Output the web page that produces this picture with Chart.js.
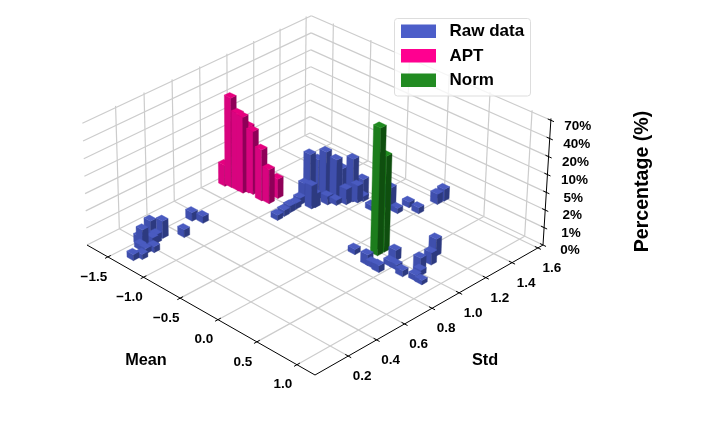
<!DOCTYPE html>
<html>
<head>
<meta charset="utf-8">
<style>
html, body { margin: 0; padding: 0; background: #fff; }
canvas { display: block; }
</style>
<script src="https://cdn.jsdelivr.net/npm/chart.js@4/dist/chart.umd.js"></script>
</head>
<body>
<canvas id="myChart" width="728" height="428"></canvas>
<script>
var meanTicks = [-1.5, -1.0, -0.5, 0.0, 0.5, 1.0],
    stdTicks = [0.2, 0.4, 0.6, 0.8, 1.0, 1.2, 1.4, 1.6],
    pctTicks = [0, 1, 2, 5, 10, 20, 40, 70];

var rawMean = [-1.325, -1.28, -1.29, -1.41, -1.48, -1.43, -1.456, -1.38, -1.42, -1.286, -1.45, -1.347, -1.33, -1.40,
    -0.878, -0.886, -0.894, -0.90, -0.927, -0.797, -0.937, -0.918, -0.883, -0.819, -0.785, -0.711,
    -0.674, -0.691, -0.608, -0.583, -0.542, -0.79, -0.74, -0.616, -0.563,
    -0.36, -0.252, -0.157, -0.152, -0.014, -0.003, 0.002,
    0.065, 0.276, 0.343, 0.433, 0.404, 0.443, 0.519, 0.635, 0.697, 0.769, 0.85, 0.739, 0.683, 0.611];
var rawStd = [0.06, 0.10, 0.19, 0.155, 0.186, 0.18, 0.25, 0.226, 0.318, 0.403, 0.546, 0.572, 0.15, 0.26,
    0.87, 0.924, 0.973, 1.02, 1.067, 1.081, 1.11, 1.137, 1.18, 1.201, 1.222, 1.22,
    1.199, 1.253, 1.287, 1.352, 1.329, 1.104, 1.17, 1.241, 1.297,
    1.29, 1.368, 1.365, 1.451, 1.442, 1.581, 1.63,
    0.912, 0.883, 0.882, 0.874, 1.016, 0.956, 0.955, 0.93, 1.025, 0.947, 0.943, 1.002, 1.114, 1.193];
var rawPct = [0.35, 0.3, 0.35, 0.3, 0.5, 1.04, 1.2, 0.5, 1.0, 0.46, 0.5, 0.4, 0.3, 0.5,
    0.31, 0.35, 0.4, 0.35, 0.4, 1.35, 1.04, 4.1, 2.9, 4.4, 1.9, 3.5,
    0.3, 1.9, 3.5, 1.1, 0.3, 0.8, 0.5, 0.9, 1.0,
    0.3, 1.28, 0.3, 0.33, 0.35, 0.6, 0.7,
    0.31, 0.6, 0.3, 0.4, 0.6, 0.3, 0.3, 0.35, 0.8, 0.33, 0.25, 0.3, 0.7, 0.98];

var aptMean = [-1.697, -1.638, -1.543, -1.478, -1.439, -1.391, -1.245, -1.156, -1.165],
    aptStd = [0.92, 0.937, 0.938, 0.939, 0.962, 0.968, 0.953, 0.96, 1.031],
    aptPct = [1.25, 25, 15.3, 14.6, 9.5, 8.5, 5, 2, 1.15];

var normMean = [0.226, 0.226],
    normStd = [0.986, 1.034],
    normPct = [76, 29];

var seriesNames = ['Raw data', 'APT', 'Norm'],
    legendColors = ['#4c5ec9', '#ff0090', '#228b22'],
    faceColors = [
        {top: '#4a5bc0', side: '#3f4fad', dark: '#2d3a80'},
        {top: '#e6007f', side: '#d8047f', dark: '#8f0058'},
        {top: '#1f8a1f', side: '#1c7d1c', dark: '#0f4f0f'}
    ];

var barDx = 0.09, barDy = 0.04;
var labelFont = 'bold 13.5px "Liberation Sans", Arial, sans-serif';

// screen corners of the floor and the point where the verticals meet
var left = [87, 245], bottom = [315, 375], right = [543, 245], back = [310, 133],
    backTopY = 14, vp = [258, 4764];

var dx1 = bottom[0] - right[0], dx2 = back[0] - right[0], sx = left[0] - bottom[0] + right[0] - back[0],
    dy1 = bottom[1] - right[1], dy2 = back[1] - right[1], sy = left[1] - bottom[1] + right[1] - back[1],
    det = dx1 * dy2 - dx2 * dy1,
    g = (sx * dy2 - dx2 * sy) / det,
    h = (dx1 * sy - sx * dy1) / det,
    a = bottom[0] - left[0] + g * bottom[0],
    b = back[0] - left[0] + h * back[0],
    d = bottom[1] - left[1] + g * bottom[1],
    e = back[1] - left[1] + h * back[1],
    k = (h + 1) * (backTopY - back[1]) / (vp[1] - backTopY);

function project(u, v, w) {
    var s = g * u + h * v + 1 + w * k;
    return {
        x: (a * u + b * v + left[0] + w * k * vp[0]) / s,
        y: (d * u + e * v + left[1] + w * k * vp[1]) / s
    };
}

// 0..1 position of a value along one of the chart's scales
function dec(scale, value) {
    return scale.getDecimalForPixel(scale.getPixelForValue(value));
}

// the percentage axis has evenly spaced ticks, so bar heights go through them
function pctToTick(p) {
    var i, n = pctTicks.length;
    for (i = 1; i < n; i += 1) {
        if (p <= pctTicks[i]) {
            break;
        }
    }
    i = Math.min(i, n - 1);
    return i - 1 + (p - pctTicks[i - 1]) / (pctTicks[i] - pctTicks[i - 1]);
}

function makePoints(means, stds, pcts) {
    return means.map(function (m, i) {
        return {x: m, y: stds[i], z: pcts[i]};
    });
}

function line(ctx, p, q, color, width) {
    ctx.strokeStyle = color;
    ctx.lineWidth = width;
    ctx.beginPath();
    ctx.moveTo(p.x, p.y);
    ctx.lineTo(q.x, q.y);
    ctx.stroke();
}

function poly(ctx, pts, color) {
    ctx.fillStyle = color;
    ctx.strokeStyle = color;
    ctx.lineWidth = 0.4;
    ctx.beginPath();
    pts.forEach(function (p, i) {
        if (i === 0) {
            ctx.moveTo(p.x, p.y);
        } else {
            ctx.lineTo(p.x, p.y);
        }
    });
    ctx.closePath();
    ctx.fill();
    ctx.stroke();
}

function text(ctx, str, x, y, font, rot) {
    ctx.save();
    ctx.translate(x, y);
    if (rot) {
        ctx.rotate(rot);
    }
    ctx.font = font;
    ctx.fillStyle = '#000';
    ctx.textAlign = 'center';
    ctx.textBaseline = 'middle';
    ctx.fillText(str, 0, 0);
    ctx.restore();
}

var axes3d = {
    id: 'axes3d',
    beforeDatasetsDraw: function (chart) {
        var ctx = chart.ctx, sc = chart.scales, grid = '#cccccc';
        ctx.save();
        pctTicks.forEach(function (p, i) {
            var w = dec(sc.z, i);
            line(ctx, project(0, 0, w), project(0, 1, w), grid, 1.2);
            line(ctx, project(0, 1, w), project(1, 1, w), grid, 1.2);
        });
        meanTicks.forEach(function (m) {
            var u = dec(sc.x, m);
            line(ctx, project(u, 0, 0), project(u, 1, 0), grid, 1.2);
            line(ctx, project(u, 1, 0), project(u, 1, 1), grid, 1.2);
        });
        stdTicks.forEach(function (s) {
            var v = dec(sc.y, s);
            line(ctx, project(0, v, 0), project(1, v, 0), grid, 1.2);
            line(ctx, project(0, v, 0), project(0, v, 1), grid, 1.2);
        });
        ctx.restore();
    },
    afterDatasetsDraw: function (chart) {
        var ctx = chart.ctx, sc = chart.scales, bars = [];
        chart.data.datasets.forEach(function (ds, n) {
            ds.data.forEach(function (pt) {
                var u0 = dec(sc.x, pt.x - barDx / 2),
                    u1 = dec(sc.x, pt.x + barDx / 2),
                    v0 = dec(sc.y, pt.y - barDy / 2),
                    v1 = dec(sc.y, pt.y + barDy / 2),
                    w = dec(sc.z, pctToTick(pt.z));
                bars.push({u0: u0, u1: u1, v0: v0, v1: v1, w: w, n: n,
                    depth: project((u0 + u1) / 2, (v0 + v1) / 2, 0).y});
            });
        });
        bars.sort(function (p, q) {
            return p.depth - q.depth;
        });
        ctx.save();
        bars.forEach(function (r) {
            var c = faceColors[r.n];
            poly(ctx, [project(r.u0, r.v0, 0), project(r.u1, r.v0, 0), project(r.u1, r.v0, r.w), project(r.u0, r.v0, r.w)], c.side);
            poly(ctx, [project(r.u1, r.v0, 0), project(r.u1, r.v1, 0), project(r.u1, r.v1, r.w), project(r.u1, r.v0, r.w)], c.dark);
            poly(ctx, [project(r.u0, r.v0, r.w), project(r.u1, r.v0, r.w), project(r.u1, r.v1, r.w), project(r.u0, r.v1, r.w)], c.top);
        });
        ctx.restore();
    },
    afterDraw: function (chart) {
        var ctx = chart.ctx, sc = chart.scales;
        ctx.save();
        // black axes
        line(ctx, project(0, 0, 0), project(1, 0, 0), '#000', 1);
        line(ctx, project(1, 0, 0), project(1, 1, 0), '#000', 1);
        line(ctx, project(1, 1, 0), project(1, 1, 1), '#000', 1);

        meanTicks.forEach(function (m) {
            var u = dec(sc.x, m), p = project(u, 0, 0);
            line(ctx, project(u, 0.012, 0), project(u, -0.012, 0), '#000', 1);
            text(ctx, String(m.toFixed(1)).replace('-', '\u2212'), p.x - 14, p.y + 20, labelFont);
        });
        stdTicks.forEach(function (s) {
            var v = dec(sc.y, s), p = project(1, v, 0);
            line(ctx, project(1.012, v, 0), project(0.988, v, 0), '#000', 1);
            text(ctx, s.toFixed(1), p.x + 14, p.y + 20.5, labelFont);
        });
        pctTicks.forEach(function (t, i) {
            var w = dec(sc.z, i), p = project(1, 1, w);
            line(ctx, project(0.988, 1, w), project(1.012, 1, w), '#000', 1);
            text(ctx, t + '%', p.x + 27, p.y + 5.5, labelFont);
        });

        text(ctx, 'Mean', 146, 361, 'bold 16.3px "Liberation Sans", Arial, sans-serif');
        text(ctx, 'Std', 485, 361, 'bold 16.3px "Liberation Sans", Arial, sans-serif');
        text(ctx, 'Percentage (%)', 642.5, 181.5, 'bold 19.6px "Liberation Sans", Arial, sans-serif', -Math.PI / 2);

        // legend box
        ctx.beginPath();
        ctx.roundRect(394.5, 18.5, 136, 77.5, 3);
        ctx.fillStyle = 'rgba(255,255,255,0.8)';
        ctx.fill();
        ctx.strokeStyle = '#dddddd';
        ctx.lineWidth = 1;
        ctx.stroke();
        seriesNames.forEach(function (name, i) {
            var y = 24.5 + i * 24.5;
            ctx.fillStyle = legendColors[i];
            ctx.fillRect(401, y, 35, 13.5);
            ctx.font = 'bold 17px "Liberation Sans", Arial, sans-serif';
            ctx.fillStyle = '#000';
            ctx.textAlign = 'left';
            ctx.textBaseline = 'middle';
            ctx.fillText(name, 449.5, y + 7);
        });
        ctx.restore();
    }
};

var chart = new Chart(document.getElementById('myChart').getContext('2d'), {
    type: 'scatter',
    data: {
        datasets: [
            {label: seriesNames[0], data: makePoints(rawMean, rawStd, rawPct), pointRadius: 0},
            {label: seriesNames[1], data: makePoints(aptMean, aptStd, aptPct), pointRadius: 0},
            {label: seriesNames[2], data: makePoints(normMean, normStd, normPct), pointRadius: 0}
        ]
    },
    options: {
        responsive: false,
        animation: false,
        layout: {padding: 0},
        plugins: {legend: {display: false}, tooltip: {enabled: false}},
        scales: {
            x: {type: 'linear', min: -1.8, max: 1.22, display: false},
            y: {type: 'linear', min: -0.03, max: 1.64, display: false},
            z: {type: 'linear', axis: 'y', min: 0, max: 7.1, display: false}
        }
    },
    plugins: [axes3d]
});
</script>
</body>
</html>
